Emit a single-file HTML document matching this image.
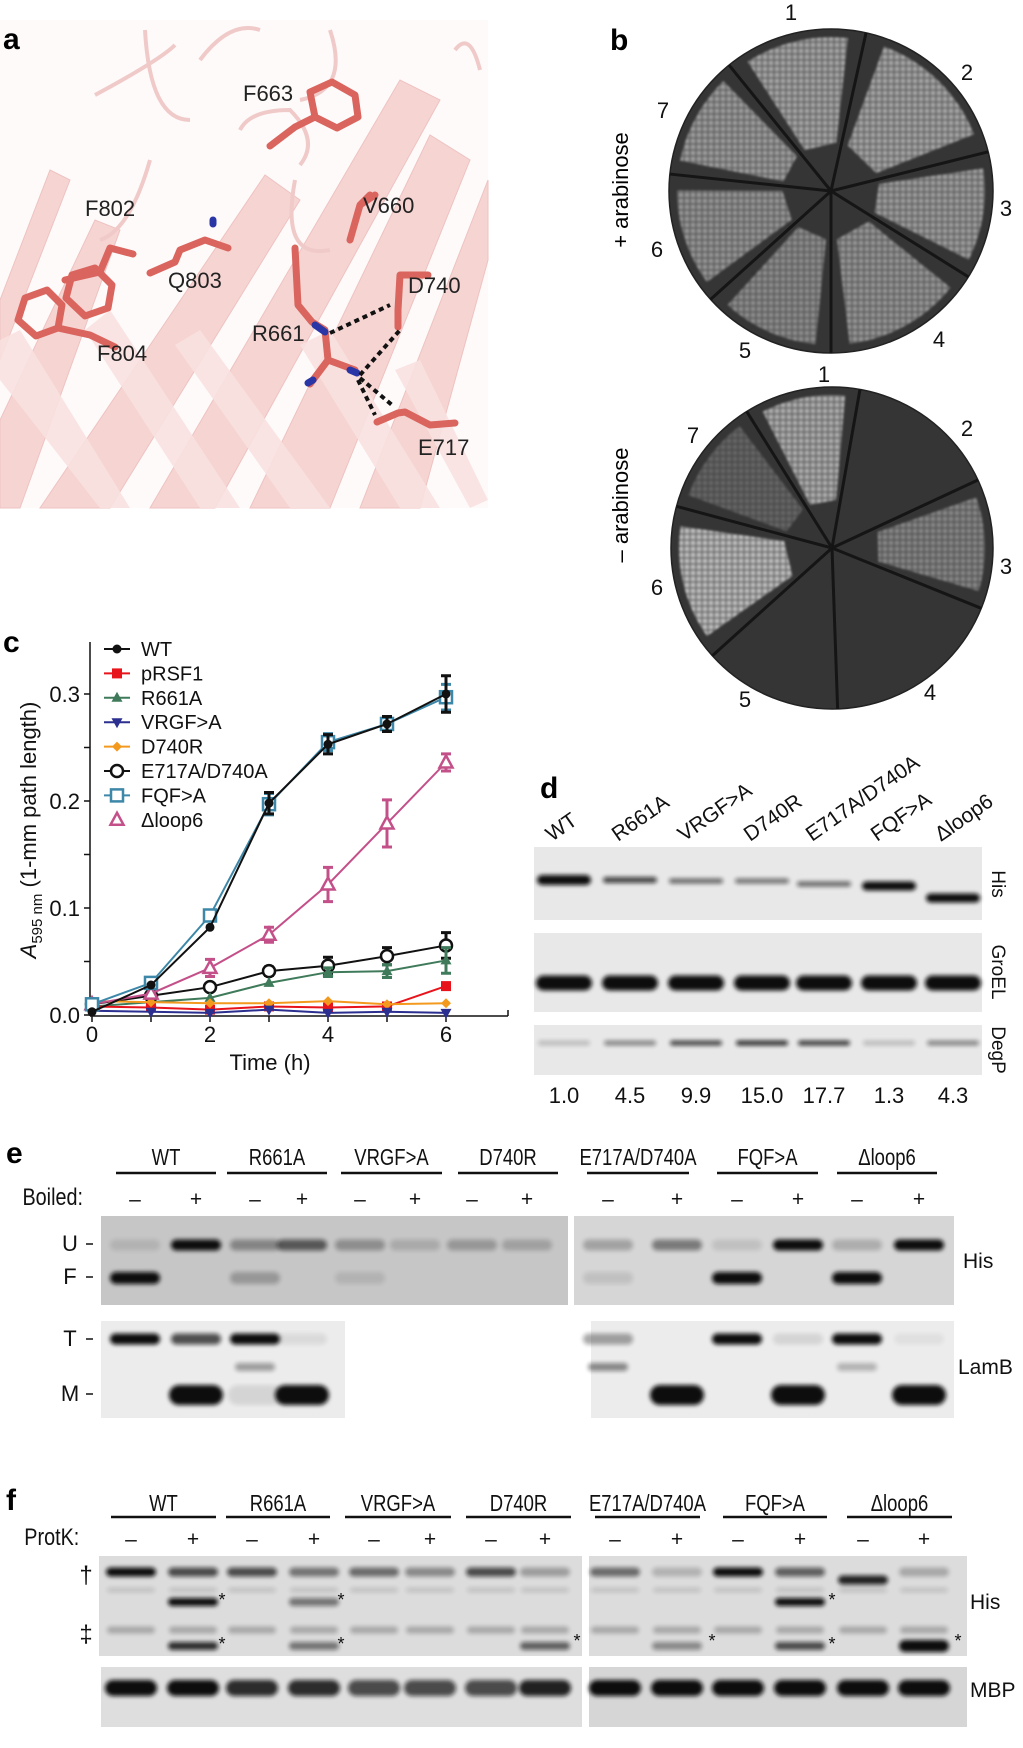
<!DOCTYPE html>
<html><head><meta charset="utf-8"><style>
html,body{margin:0;padding:0;background:#fff;}
svg{display:block;font-family:"Liberation Sans",sans-serif;}
</style></head><body>
<svg id="fig" width="1023" height="1748" viewBox="0 0 1023 1748" xmlns="http://www.w3.org/2000/svg">
<defs>
<filter id="blur2" x="-20%" y="-100%" width="140%" height="300%"><feGaussianBlur stdDeviation="2"/></filter>
<filter id="blur1"><feGaussianBlur stdDeviation="1"/></filter>
<pattern id="dots" width="6" height="6" patternUnits="userSpaceOnUse"><rect width="6" height="6" fill="#8a8a8a"/><circle cx="3" cy="3" r="2.2" fill="#d6d6d6"/></pattern>
</defs>

<!-- Panel a -->
<g>
<rect x="0" y="20" width="488" height="488" fill="#fefafa"/>
<g fill="#f5d4d2" stroke="#eec3c1" stroke-width="1">
<polygon points="40,508 110,508 300,200 265,175"/>
<polygon points="150,508 215,508 440,100 400,80"/>
<polygon points="250,508 330,508 470,160 430,135"/>
<polygon points="360,508 420,508 488,260 488,180"/>
<polygon points="0,420 0,508 20,508 120,230 95,220"/>
<polygon points="0,300 0,360 70,180 50,170"/>
</g>
<g fill="#f9e2e1" opacity="0.9">
<polygon points="100,508 130,508 20,330 0,340 0,380"/>
<polygon points="200,508 240,508 110,310 85,330"/>
<polygon points="290,508 330,508 200,330 175,345"/>
<polygon points="400,508 440,508 330,330 300,345"/>
<polygon points="470,508 488,500 420,360 395,370"/>
</g>
<g fill="none" stroke="#f0cac8" stroke-width="4">
<path d="M95,95 Q160,60 175,45 M145,30 Q150,120 190,120 M200,60 Q230,20 260,30 M240,130 Q250,110 290,110 Q320,140 300,165 M330,30 Q350,90 300,100 M455,50 Q470,30 480,70 M150,160 Q130,230 100,240 M295,180 Q280,260 330,250"/>
</g>
<g fill="none" stroke="#d9655e" stroke-width="7" stroke-linecap="round" stroke-linejoin="round">
<polygon points="310,92 332,82 355,95 358,117 337,128 315,117"/>
<path d="M315,117 L295,127 L270,146"/>
<path d="M350,240 L360,205 L370,195 M360,205 L375,195"/>
<path d="M133,254 L110,248 L100,272 L65,280"/>
<polygon points="72,275 95,268 112,285 108,308 85,316 66,298"/>
<polygon points="25,298 47,290 62,305 58,328 36,336 18,320"/>
<path d="M58,328 L90,335 L115,347"/>
<path d="M150,273 L175,262 L180,250 L205,240 L228,248"/>
<path d="M295,248 L298,305 L312,322 L325,330 L328,360 L310,384"/>
<path d="M328,360 L355,370"/>
<path d="M428,275 L400,275 L398,310 L398,327"/>
<path d="M377,422 L398,413 L405,412 L430,425 L455,423"/>
</g>
<g stroke="#2b36a6" stroke-width="7" stroke-linecap="round"><path d="M213,224 L213,220"/><path d="M315,325 L325,332"/><path d="M308,383 L313,380"/><path d="M350,370 L357,373"/></g>
<g stroke="#111" stroke-width="4" stroke-dasharray="5,4" fill="none">
<path d="M330,333 L390,305"/><path d="M360,375 L400,330"/><path d="M360,378 L392,405"/><path d="M358,380 L375,415"/>
</g>
<g font-size="22" fill="#222">
<text x="243" y="101">F663</text>
<text x="363" y="213">V660</text>
<text x="85" y="216">F802</text>
<text x="168" y="288">Q803</text>
<text x="408" y="293">D740</text>
<text x="252" y="341">R661</text>
<text x="97" y="361">F804</text>
<text x="418" y="455">E717</text>
</g>
</g>
<text x="3" y="49" font-size="30" font-weight="bold">a</text>

<!-- Panel b -->
<text x="610" y="50" font-size="30" font-weight="bold">b</text>
<g id="plates"></g>
<text transform="translate(628,190) rotate(-90)" text-anchor="middle" font-size="22">+ arabinose</text>
<text transform="translate(628,505) rotate(-90)" text-anchor="middle" font-size="22">– arabinose</text>

<!-- Panel c -->
<text x="3" y="652" font-size="30" font-weight="bold">c</text>
<g id="chart"></g>

<!-- Panel d -->
<text x="540" y="798" font-size="30" font-weight="bold">d</text>
<g id="paneld"></g>

<!-- Panel e -->
<text x="6" y="1163" font-size="30" font-weight="bold">e</text>
<g id="panele"></g>

<!-- Panel f -->
<text x="6" y="1510" font-size="30" font-weight="bold">f</text>
<g id="panelf"></g>
</svg>
<script>
const NS="http://www.w3.org/2000/svg";
function mk(tag,attrs,parent){const e=document.createElementNS(NS,tag);for(const k in attrs)e.setAttribute(k,attrs[k]);if(parent)parent.appendChild(e);return e;}
function txt(parent,x,y,s,size,anchor,extra){const t=mk('text',Object.assign({x:x,y:y,'font-size':size,'text-anchor':anchor||'start',fill:'#111'},extra||{}),parent);t.textContent=s;return t;}

/* ---------- Panel c data ---------- */
const hours=[0,1,2,3,4,5,6];
const wtVals=[0.003,0.028,0.082,0.198,0.253,0.272,0.300];
const wtErr=[0.002,0.003,0.003,0.010,0.009,0.007,0.017];
const prsf1Vals=[0.008,0.007,0.005,0.008,0.007,0.008,0.027];
const r661aVals=[0.008,0.012,0.016,0.030,0.040,0.041,0.051];
const r661aErr=[0.002,0.002,0.002,0.003,0.004,0.006,0.012];
const vrgfVals=[0.004,0.003,0.002,0.005,0.002,0.003,0.002];
const d740rVals=[0.013,0.012,0.011,0.011,0.013,0.010,0.011];
const e717Vals=[0.010,0.018,0.026,0.041,0.046,0.055,0.065];
const e717Err=[0.002,0.003,0.003,0.004,0.008,0.008,0.012];
const fqfVals=[0.010,0.030,0.093,0.197,0.255,0.272,0.297];
const fqfErr=[0.002,0.003,0.003,0.010,0.008,0.006,0.012];
const loopVals=[0.010,0.020,0.044,0.075,0.122,0.179,0.236];
const loopErr=[0.002,0.002,0.008,0.007,0.016,0.022,0.008];
const yTicks=[0.0,0.1,0.2,0.3];
const xTicks=[0,2,4,6];

const X=h=>92+59*h, Y=v=>1015-1070*v;
const chart=document.getElementById('chart');
const ya=mk('line',{x1:90,y1:642,x2:90,y2:1016,stroke:'#111','stroke-width':1.5},chart);

const xa=mk('line',{x1:90,y1:1016,x2:508,y2:1016,stroke:'#111','stroke-width':1.5},chart);

mk('line',{x1:508,y1:1016,x2:508,y2:1010,stroke:'#111','stroke-width':1.5},chart);
[0.05,0.15,0.25].forEach(v=>mk('line',{x1:84,y1:Y(v),x2:90,y2:Y(v),stroke:'#111','stroke-width':1.5},chart));
yTicks.forEach(v=>{mk('line',{x1:84,y1:Y(v),x2:90,y2:Y(v),stroke:'#111','stroke-width':1.5},chart);
 const t=txt(chart,80,Y(v)+8,v.toFixed(1),22,'end');});
hours.forEach(h=>mk('line',{x1:X(h),y1:1016,x2:X(h),y2:1022,stroke:'#111','stroke-width':1.5},chart));
xTicks.forEach(h=>{const t=txt(chart,X(h),1042,String(h),22,'middle');});
const xt=txt(chart,270,1070,'Time (h)',22,'middle');
const yt=mk('text',{transform:'translate(36,830) rotate(-90)','text-anchor':'middle','font-size':22,fill:'#111'},chart);

yt.innerHTML='<tspan font-style="italic">A</tspan><tspan font-size="15" dy="6">595 nm</tspan><tspan dy="-6"> (1-mm path length)</tspan>';

function marker(g,type,x,y,color){
 let e;
 if(type==='dot')e=mk('circle',{cx:x,cy:y,r:4.5,fill:color},g);
 else if(type==='sq')e=mk('rect',{x:x-5,y:y-5,width:10,height:10,fill:color},g);
 else if(type==='tri')e=mk('polygon',{points:`${x},${y-6} ${x-5.5},${y+4} ${x+5.5},${y+4}`,fill:color},g);
 else if(type==='tridown')e=mk('polygon',{points:`${x},${y+6} ${x-5.5},${y-4} ${x+5.5},${y-4}`,fill:color},g);
 else if(type==='dia')e=mk('polygon',{points:`${x},${y-5} ${x+5},${y} ${x},${y+5} ${x-5},${y}`,fill:color},g);
 else if(type==='ocirc')e=mk('circle',{cx:x,cy:y,r:6,fill:'#fff',stroke:color,'stroke-width':2.5},g);
 else if(type==='osq')e=mk('rect',{x:x-6,y:y-6,width:12,height:12,fill:'#fff',stroke:color,'stroke-width':2.5},g);
 else if(type==='otri')e=mk('polygon',{points:`${x},${y-7} ${x-6.5},${y+5} ${x+6.5},${y+5}`,fill:'#fff',stroke:color,'stroke-width':2.5},g);
 return e;
}
const series=[
 {name:'E717A/D740A',vals:e717Vals,err:e717Err,color:'#111',m:'ocirc',key:'e717a-d740a'},
 {name:'R661A',vals:r661aVals,err:r661aErr,color:'#3f7a5a',m:'tri',key:'r661a'},
 {name:'pRSF1',vals:prsf1Vals,err:null,color:'#e8141c',m:'sq',key:'prsf1'},
 {name:'D740R',vals:d740rVals,err:null,color:'#f39a1e',m:'dia',key:'d740r'},
 {name:'VRGF>A',vals:vrgfVals,err:null,color:'#2b2f8f',m:'tridown',key:'vrgf'},
 {name:'Δloop6',vals:loopVals,err:loopErr,color:'#c4508a',m:'otri',key:'dloop6'},
 {name:'FQF>A',vals:fqfVals,err:fqfErr,color:'#3d87a8',m:'osq',key:'fqf'},
 {name:'WT',vals:wtVals,err:wtErr,color:'#111',m:'dot',key:'wt'}
];
series.forEach(s=>{
 const g=mk('g',{},chart);
 
 
 const pts=hours.map((h,i)=>X(h)+','+Y(s.vals[i])).join(' ');
 mk('polyline',{points:pts,fill:'none',stroke:s.color,'stroke-width':2},g);
 if(s.err)hours.forEach((h,i)=>{const e=s.err[i];if(e<0.004)return;const x=X(h),y1=Y(s.vals[i]+e),y2=Y(s.vals[i]-e);
  mk('path',{d:`M${x},${y1}V${y2}M${x-5},${y1}H${x+5}M${x-5},${y2}H${x+5}`,stroke:s.color,'stroke-width':3,fill:'none'},g);});
 hours.forEach((h,i)=>{const p=marker(g,s.m,X(h),Y(s.vals[i]),s.color);
  
  });
});
const legOrder=['WT','pRSF1','R661A','VRGF>A','D740R','E717A/D740A','FQF>A','Δloop6'];
legOrder.forEach((n,i)=>{
 const s=series.find(q=>q.name===n);const y=649+24.4*i;
 const g=mk('g',{},chart);
 
 
 if(s.key!=='dloop6')mk('line',{x1:104,y1:y,x2:130,y2:y,stroke:s.color,'stroke-width':2},g);
 marker(g,s.m,117,y,s.color);
 txt(g,141,y+7,n,20,'start');
});

/* ---------- Panel b plates ---------- */
const spokesTop=[-77.5,-14,32,90,138,186,231];
const growthTop=[0.7,0.65,0.6,0.55,0.6,0.65,0.7];
const spokesBot=[-80,-25,22,88,138,195,238];
const growthBot=[0.0,0.5,0.0,0.0,0.85,0.3,0.75];
const plateLabelsTop=[['1',791,20],['2',967,80],['3',1006,216],['4',939,347],['5',745,358],['6',657,257],['7',663,118]];
const plateLabelsBot=[['1',824,382],['2',967,436],['3',1006,574],['4',930,700],['5',745,707],['6',657,595],['7',693,443]];
const plates=document.getElementById('plates');
function drawPlate(cx,cy,r,spokes,growth,labels,key){
 const g=mk('g',{},plates);
 
 
 mk('circle',{cx:cx,cy:cy,r:r,fill:'#353535',stroke:'#222','stroke-width':1.5},g);
 const rad=a=>a*Math.PI/180;
 for(let i=0;i<spokes.length;i++){
  let a1=spokes[i],a2=spokes[(i+1)%spokes.length];if(a2<a1)a2+=360;
  const gr=growth[i];if(gr<=0)continue;
  const m=(a2-a1)*0.12,b1=rad(a1+m),b2=rad(a2-m),r1=r*0.3,r2=r*0.95;
  const d=`M${cx+r1*Math.cos(b1)},${cy+r1*Math.sin(b1)} L${cx+r2*Math.cos(b1)},${cy+r2*Math.sin(b1)} A${r2},${r2} 0 0 1 ${cx+r2*Math.cos(b2)},${cy+r2*Math.sin(b2)} L${cx+r1*Math.cos(b2)},${cy+r1*Math.sin(b2)} Z`;
  mk('path',{d:d,fill:'url(#dots)',opacity:gr,filter:'url(#blur1)'},g);
 }
 spokes.forEach(a=>mk('line',{x1:cx,y1:cy,x2:cx+r*Math.cos(rad(a)),y2:cy+r*Math.sin(rad(a)),stroke:'#151515','stroke-width':3},g));
 labels.forEach(l=>txt(g,l[1],l[2],l[0],22,'middle'));
}
drawPlate(831,191,162,spokesTop,growthTop,plateLabelsTop,'plate-plus-arabinose');
drawPlate(832,548,161,spokesBot,growthBot,plateLabelsBot,'plate-minus-arabinose');

function band(g,x,y,w,h,op){if(op<=0)return;mk('rect',{x:x-w/2,y:y-h/2,width:w,height:h,rx:h/2,fill:'#111',opacity:op,filter:'url(#blur2)'},g);}

/* ---------- Panel d ---------- */
const dLanes=['WT','R661A','VRGF>A','D740R','E717A/D740A','FQF>A','Δloop6'];
const dLaneX=[564,630,696,762,824,889,953];
const dHisY=[880,880,881,881,884,886,898];
const dHisOp=[1,0.75,0.6,0.55,0.6,1,1];
const dHisH=[10,6,5,5,5,9,9];
const dDegPOp=[0.2,0.45,0.75,0.85,0.8,0.2,0.45];
const dRatios=['1.0','4.5','9.9','15.0','17.7','1.3','4.3'];
const pd=document.getElementById('paneld');
[['his',847,920],['groel',933,1012],['degp',1025,1075]].forEach(b=>{
 const r=mk('rect',{x:534,y:b[1],width:448,height:b[2]-b[1],fill:'#e8e8e8'},pd);
 });
dLanes.forEach((n,i)=>{
 const x=dLaneX[i];
 const t=txt(pd,x-12,842,n,21,'start',{transform:`rotate(-35 ${x-12} 842)`});
 
 band(pd,x,dHisY[i],54,dHisH[i],dHisOp[i]);
 band(pd,x,983,56,15,1);
 band(pd,x,1043,52,5,dDegPOp[i]);
 const r=txt(pd,x,1103,dRatios[i],22,'middle');
 
});
[['His',884],['GroEL',972],['DegP',1050]].forEach(l=>{const t=txt(pd,992,l[1],l[0],19,'middle',{transform:`rotate(90 992 ${l[1]})`});
 });

/* ---------- Panel e ---------- */
const eGroups=['WT','R661A','VRGF>A','D740R','E717A/D740A','FQF>A','Δloop6'];
const eGroupX=[[116,216],[227,327],[341,442],[458,558],[587,689],[717,818],[837,937]];
const eLaneX=[135,196,255,302,360,415,472,527,608,677,737,798,857,919];
const eU=[0.1,1,0.35,0.6,0.3,0.15,0.25,0.2,0.25,0.45,0.1,1,0.2,1];
const eF=[1,0,0.25,0,0.1,0,0,0,0.1,0,1,0,1,0];
const eT=[1,0.7,1,0.08,0,0,0,0,0.35,0,1,0.1,1,0.05];
const eM=[0,1,0.1,1,0,0,0,0,0,1,0,1,0,1];
const eMid=[0,0,0.35,0,0,0,0,0,0.45,0,0,0,0.25,0];
const pe=document.getElementById('panele');
function headers(g,groups,gx,yText,yLine,key){groups.forEach((n,i)=>{const cx=(gx[i][0]+gx[i][1])/2;
 const t=txt(g,cx,yText,n,21,'middle',{transform:`scale(0.88,1.1)`,x:cx/0.88,y:yText/1.1});
 
 mk('line',{x1:gx[i][0],y1:yLine,x2:gx[i][1],y2:yLine,stroke:'#111','stroke-width':2.5},g);});}
headers(pe,eGroups,eGroupX,1165,1173,'e');
txt(pe,23,1205,'Boiled:',22,'start',{transform:'scale(0.9,1.1)',x:25,y:1205/1.1});
eLaneX.forEach((x,i)=>txt(pe,x,1206,i%2?'+':'–',21,'middle'));
const ehL=mk('rect',{x:101,y:1216,width:467,height:89,fill:'#c6c6c6'},pe);
const ehR=mk('rect',{x:574,y:1216,width:380,height:89,fill:'#d6d6d6'},pe);
const elL=mk('rect',{x:101,y:1321,width:244,height:97,fill:'#ececec'},pe);
const elR=mk('rect',{x:591,y:1321,width:363,height:97,fill:'#ececec'},pe);
eLaneX.forEach((x,i)=>{band(pe,x,1245,50,11,eU[i]);band(pe,x,1278,50,12,eF[i]);
 if(i<4||i>7){band(pe,x,1339,50,11,eT[i]);band(pe,x,1395,54,20,eM[i]);band(pe,x,1367,40,8,eMid[i]);}});
[['U',1251],['F',1284],['T',1346],['M',1401]].forEach(l=>{txt(pe,70,l[1],l[0],22,'middle');mk('line',{x1:86,y1:l[1]-7,x2:93,y2:l[1]-7,stroke:'#111','stroke-width':1.5},pe);});
txt(pe,963,1268,'His',21,'start');txt(pe,958,1374,'LamB',21,'start');

/* ---------- Panel f ---------- */
const fGroupX=[[111,216],[226,330],[345,451],[466,571],[595,700],[723,827],[847,952]];
const fLaneX=[131,193,252,314,374,430,491,545,615,677,738,800,863,924];
const fTop=[1,0.7,0.7,0.5,0.55,0.4,0.7,0.3,0.55,0.2,1,0.6,0.9,0.25];
const fStar1=[0,1,0,0.5,0,0,0,0,0,0,0,1,0,0];
const fStar2=[0,0.85,0,0.5,0,0,0,0.6,0,0.4,0,0.7,0,1];
const fMBP=[1,1,0.85,0.85,0.7,0.7,0.7,0.9,1,1,1,1,1,1];
const fStarX=[222,341,577,712,832,958];
const fStarY=[[1606,1650],[1606,1650],[1647],[1647],[1606,1650],[1647]];
const pf=document.getElementById('panelf');
headers(pf,eGroups,fGroupX,1511,1517,'f');
txt(pf,25,1545,'ProtK:',22,'start',{transform:'scale(0.9,1.1)',x:27,y:1545/1.1});
fLaneX.forEach((x,i)=>txt(pf,x,1546,i%2?'+':'–',21,'middle'));
const fhL=mk('rect',{x:99,y:1556,width:483,height:100,fill:'#dcdcdc'},pf);
const fhR=mk('rect',{x:589,y:1556,width:378,height:100,fill:'#dcdcdc'},pf);
const fmL=mk('rect',{x:101,y:1667,width:481,height:60,fill:'#dedede'},pf);
const fmR=mk('rect',{x:589,y:1667,width:378,height:60,fill:'#d6d6d6'},pf);
fLaneX.forEach((x,i)=>{band(pf,x,i===12?1580:1572,50,9,fTop[i]);band(pf,x,1630,48,7,0.25);band(pf,x,1590,48,5,0.12);
 band(pf,x,1602,50,8,fStar1[i]);band(pf,x,1646,50,i===13?12:8,fStar2[i]);band(pf,x,1688,52,16,fMBP[i]);});
fStarX.forEach((x,i)=>fStarY[i].forEach(y=>txt(pf,x,y,'*',18,'middle')));
txt(pf,86,1583,'†',24,'middle');txt(pf,86,1642,'‡',24,'middle');
txt(pf,970,1609,'His',21,'start');txt(pf,970,1697,'MBP',21,'start');
</script>
</body></html>
